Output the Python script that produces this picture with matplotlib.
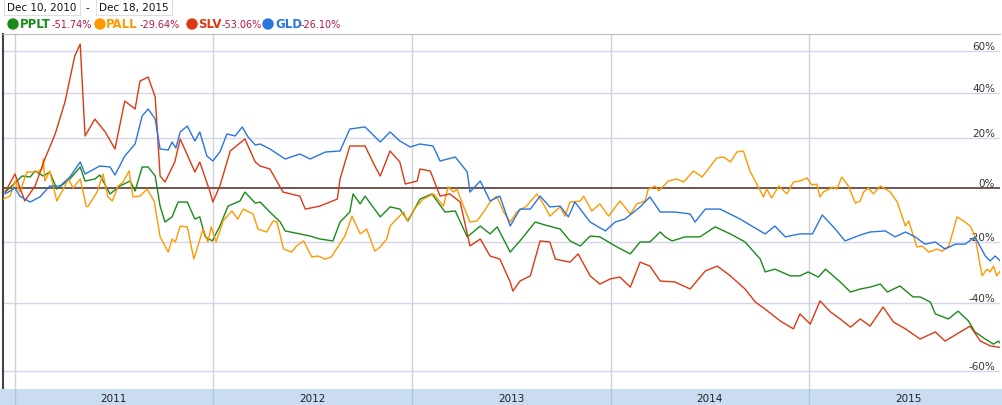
import matplotlib
matplotlib.use("Agg")
import matplotlib.pyplot as plt
import numpy as np
from matplotlib.patches import Rectangle, Ellipse

start = np.datetime64("2010-12-10")
total_days = 1834

slv_days = [4,22,40,59,77,96,114,132,142,151,169,188,206,224,243,252,267,280,289,298,316,326,353,362,381,386,399,418,445,464,473,491,515,546,556,583,615,620,638,666,684,694,712,730,740,762,767,786,804,822,841,859,878,896,914,933,938,951,970,988,1006,1016,1043,1058,1080,1098,1117,1135,1154,1172,1190,1209,1236,1264,1292,1314,1338,1365,1384,1402,1430,1454,1466,1485,1503,1522,1540,1559,1577,1595,1619,1638,1660,1687,1715,1733,1761,1779,1798,1816,1834]
slv_vals = [-1.5,5.6,-4.8,0.8,11.6,21.8,36,57.6,63.3,20.9,28.4,22.7,15.6,36.4,32.9,45.7,47.6,38.2,4.8,2.4,10.4,19.6,6.4,10.4,-1.5,-5.2,0.8,14.8,19.6,10.4,8.8,7.6,-1.5,-3,-7.8,-6.7,-4.1,3.6,16.8,16.8,8.8,4.8,14.8,10.4,1.6,2.8,7.6,6.8,-3,-2.2,-5.2,-21.3,-18.9,-24.6,-25.6,-33.1,-36.1,-32.8,-31.1,-19.6,-20,-25.6,-26.6,-23.9,-31.1,-33.8,-32.1,-31.5,-34.8,-26.6,-27.9,-32.8,-33.1,-35.4,-29.5,-27.9,-31.1,-35.4,-39.7,-41.8,-45.3,-47.6,-43.2,-46.2,-39.3,-42.6,-44.7,-47.1,-44.7,-46.8,-41.2,-45.6,-47.6,-50.6,-48.5,-51.2,-48.5,-46.8,-51.2,-52.6,-53.06]

gld_days = [4,22,31,50,68,86,105,123,142,151,178,197,206,224,243,256,267,280,289,304,311,318,326,339,353,362,375,386,399,412,427,440,451,464,473,491,519,546,565,593,620,638,666,694,712,730,749,767,791,804,832,854,859,878,896,914,933,951,970,988,1006,1025,1040,1052,1080,1108,1126,1144,1172,1190,1209,1236,1264,1273,1292,1319,1356,1380,1402,1420,1439,1466,1489,1507,1531,1549,1577,1595,1623,1641,1660,1678,1696,1715,1733,1752,1770,1788,1807,1816,1825,1834]
gld_vals = [-2.2,0,-3,-5.2,-3.3,0.8,0.8,4.4,10.4,5.6,8.8,8.4,5.2,12.8,17.6,29.8,32.9,28.4,15.6,15.2,18.4,16,22.7,25.3,18.8,22.7,12.8,10.8,14.4,21.8,20.9,24.9,20.4,17.2,17.6,15.6,11.6,13.6,11.6,14.4,14.8,24,24.9,18.4,22.7,18.8,16.4,17.6,16.8,10.8,12.4,6.4,-1.5,2.8,-4.8,-3,-14.1,-7.8,-7.8,-3,-7,-6.7,-10.7,-5.2,-12.6,-15.9,-12.6,-11.5,-7,-3.3,-8.9,-8.9,-9.6,-12.6,-7.8,-7.8,-11.5,-14.4,-17,-14.1,-18.1,-17,-17,-10,-15.2,-19.6,-17.4,-16.3,-15.9,-18.1,-16.3,-18.1,-20.7,-20,-22.3,-20.7,-20.7,-18.1,-24.6,-26.2,-24.6,-26.10]

pplt_days = [4,22,35,50,59,74,86,99,123,142,151,169,178,197,215,234,243,256,267,280,289,298,311,322,339,353,362,372,385,399,414,436,445,464,473,491,510,519,546,565,583,607,620,638,644,657,666,694,712,730,745,767,789,813,832,854,878,896,909,933,951,979,997,1025,1043,1062,1080,1098,1126,1144,1154,1172,1190,1209,1218,1231,1255,1282,1310,1338,1365,1393,1402,1420,1448,1466,1481,1500,1513,1540,1559,1577,1595,1614,1627,1650,1674,1687,1706,1715,1739,1757,1776,1788,1807,1822,1831,1834]
pplt_vals = [-1.5,2,4.8,4.4,6.8,4.8,6.4,-0.4,3.6,8.4,2.8,3.6,5.2,-2.2,0.8,2.8,-1.1,8.4,8.4,4.8,-6.7,-12.6,-10.7,-5.2,-5.2,-11.5,-10.7,-18.1,-19.6,-14.1,-6.7,-4.8,-1.5,-5.6,-5.2,-8.9,-12.6,-15.9,-17,-17.8,-18.9,-19.6,-12.6,-8.9,-2.2,-5.9,-3,-10.7,-7,-7.8,-12.2,-4.1,-2.2,-8.9,-8.5,-18.1,-14.1,-17,-14.4,-23.3,-19.6,-12.6,-13.7,-15.2,-19.6,-21.3,-17.8,-18.1,-21.3,-23,-23.9,-20,-20,-16.3,-18.1,-19.6,-18.1,-18.1,-14.4,-17,-20,-25.6,-29.8,-28.9,-31.1,-31.1,-29.8,-31.5,-28.9,-33.1,-36.4,-35.4,-34.8,-33.8,-36.4,-34.4,-38,-38,-39.7,-43.2,-44.7,-42.4,-45.3,-48.5,-50.6,-52.1,-51.2,-51.74]

pall_days = [0,13,22,31,44,63,72,74,77,86,99,114,120,129,142,153,156,173,184,193,201,212,221,232,239,252,265,278,289,304,311,317,326,339,351,368,377,383,392,405,421,432,442,460,469,485,497,504,516,531,540,553,568,580,592,604,617,629,642,657,669,684,694,706,712,724,737,743,749,761,773,792,810,819,829,835,847,859,872,884,896,908,921,933,945,963,982,994,1006,1025,1034,1043,1062,1068,1083,1098,1114,1135,1154,1166,1181,1187,1200,1206,1224,1240,1252,1270,1286,1313,1326,1338,1350,1362,1374,1399,1405,1414,1427,1442,1454,1466,1479,1488,1497,1503,1509,1527,1534,1543,1555,1568,1577,1583,1592,1601,1614,1632,1645,1660,1666,1681,1691,1703,1718,1727,1740,1755,1767,1779,1788,1801,1810,1816,1822,1828,1834]
pall_vals = [-4.1,-3,2.8,-1.5,6.4,6.4,7.6,11.6,2.8,6.8,-4.8,0.8,3.6,0,3.6,-6.7,-7,-1.5,5.6,-3.3,-4.8,0.8,2.4,6.8,-3.3,-3,-0.4,-4.8,-18.1,-23.3,-18.9,-20,-14.1,-14.4,-25.6,-15.2,-20,-14.4,-20,-12.2,-8.5,-11.5,-7.8,-9.6,-15.2,-16.3,-12.2,-12.6,-22.3,-23.3,-21.3,-19.6,-24.9,-24.6,-25.6,-24.9,-21.3,-17.8,-10.4,-17,-15.2,-23,-21.6,-18.9,-14.1,-11.5,-8.9,-12.2,-10.4,-6.7,-4.1,-2.2,-6.7,0.4,-1.5,-0.4,-6.7,-12.6,-12.2,-8.9,-5.2,-3,-8.9,-12.6,-8.9,-6.7,-2.2,-5.9,-10.4,-7,-10.4,-5.2,-4.8,-3,-8.5,-5.9,-10.4,-4.8,-9.6,-5.9,-4.8,-0.4,0.8,-1.1,2.8,3.6,2.4,6.8,4.4,12,12.4,10.4,14.4,14.8,6.8,-3.3,-0.4,-3.7,0.8,-2.2,2.4,2.8,4,1.2,1.6,-3.3,-1.5,0.4,-0.4,4.4,0.8,-5.6,-4.8,-1.5,0,-2.2,0.8,-1.5,-5.2,-14.1,-12.2,-21.6,-21.3,-23.3,-22.3,-23,-21.3,-10.7,-12.2,-14.1,-17.8,-31.1,-28.9,-29.8,-27.9,-31.1,-29.64]

series = [
    ("PPLT", pplt_days, pplt_vals, "#1a8a1a", "-51.74%"),
    ("PALL", pall_days, pall_vals, "#ff9900", "-29.64%"),
    ("SLV", slv_days, slv_vals, "#dc3912", "-53.06%"),
    ("GLD", gld_days, gld_vals, "#2a75de", "-26.10%"),
]
yticks = [60, 40, 20, 0, -20, -40, -60]
years = ["2011", "2012", "2013", "2014", "2015"]

# nonlinear vertical scale as in reference (value -> pixel row)
sv = np.array([-65.3, -60, -40, -20, 0, 20, 40, 60, 68.1])
sp = np.array([390, 372, 304, 243, 189, 139, 94, 52, 35], float)
def fwd(v):
    return -np.interp(v, sv, sp)
def inv(p):
    return np.interp(-np.asarray(p), sp[::-1], sv[::-1])

W, H = 1002, 406
fig = plt.figure(figsize=(W/100, H/100), dpi=100)
ax = fig.add_axes([3/W, 16/H, 997/W, 355/H])
ax.set_yscale("function", functions=(fwd, inv))
ax.set_ylim(-65.3, 68.1)
ax.set_xlim(0, total_days)

for t in yticks:
    if t == 0:
        ax.axhline(0, color="#5a3a32", lw=1.2, zorder=1)
    else:
        ax.axhline(t, color="#d6d6ea", lw=1, zorder=0)
    ax.text(0.995, t, f"{t}%", transform=ax.get_yaxis_transform(), ha="right", va="bottom",
            fontsize=7.5, color="#333333", zorder=1)
year_starts = [(np.datetime64(f"{y}-01-01") - start).astype(int) for y in range(2011, 2016)]
for d in year_starts:
    ax.axvline(d, color="#d0d0d8", lw=1, zorder=0)

for name, days, vals, col, pct in series:
    ax.plot(days, vals, color=col, lw=1.0, zorder=3)

ax.set_xticks([]); ax.set_yticks([]); ax.minorticks_off()
ax.tick_params(which="both", left=False, right=False, bottom=False, labelleft=False)
ax.yaxis.set_minor_locator(matplotlib.ticker.NullLocator())
for s in ["right", "bottom"]:
    ax.spines[s].set_visible(False)
ax.spines["top"].set_color("#bbbbbb")
ax.spines["left"].set_color("#444444"); ax.spines["left"].set_linewidth(1.5)

band = fig.add_axes([0, 0, 1, 16/H])
band.set_xlim(0, W); band.set_ylim(0, 16)
band.axis("off")
band.add_patch(Rectangle((0, 0), W, 16, color="#c9dcf2"))
for yr, d in zip(years, year_starts):
    xm = 3 + (d + 182) / total_days * 997
    band.text(xm, 7, yr, ha="center", va="center", fontsize=7.5, color="#222222")
for d in year_starts:
    xp = 3 + d / total_days * 997
    band.plot([xp, xp], [0, 16], color="#b0c4dc", lw=1)

def fx(x): return x / W
def fy(y): return 1 - y / H
for x0, x1, txt in [(4, 80, "Dec 10, 2010"), (96, 172, "Dec 18, 2015")]:
    fig.patches.append(Rectangle((fx(x0), fy(16)), fx(x1 - x0), 16/H, transform=fig.transFigure,
                                 facecolor="white", edgecolor="#dddddd", lw=0.8))
    fig.text(fx(x0 + 3), fy(8), txt, fontsize=7.5, va="center", color="#111111")
fig.text(fx(86), fy(8), "-", fontsize=7.5, va="center", color="#111111")

xpos = [[13, 20, 52], [100, 106, 140], [192, 198, 222], [268, 275, 301]]
for (name, days, vals, col, pct), (xc, xn, xp) in zip(series, xpos):
    fig.patches.append(Ellipse((fx(xc), fy(25)), 10/W, 10/H, transform=fig.transFigure, color=col))
    fig.text(fx(xn), fy(25), name, fontsize=8.5, fontweight="bold", color=col, va="center")
    fig.text(fx(xp), fy(25), pct, fontsize=7, color="#b5174f", va="center")

fig.savefig("out.png", dpi=100)
